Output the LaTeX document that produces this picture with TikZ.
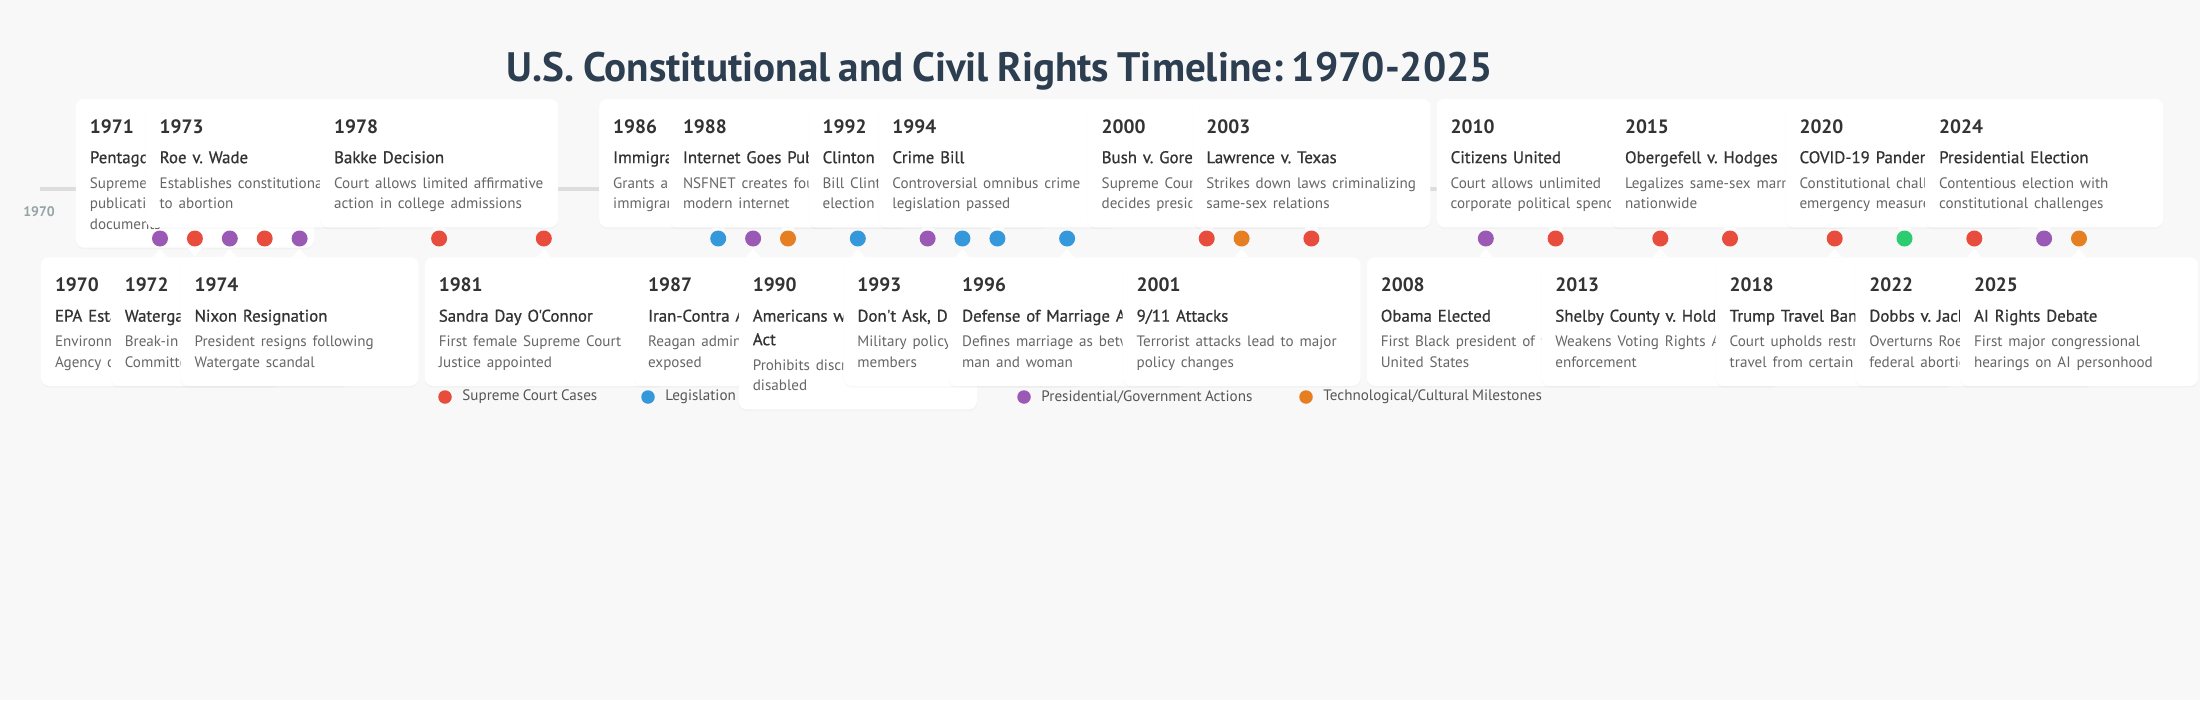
\documentclass[tikz,border=0pt]{standalone}
\usepackage{fontspec}
\setmainfont[WordSpace=0.8]{PT Sans}
\newfontfamily\medfont[FakeBold=0.8, WordSpace=0.8]{PT Sans}
\usetikzlibrary{positioning,shadows}
\setlength{\parindent}{0pt}
\setlength{\parskip}{0pt}
\frenchspacing
\definecolor{bg}{HTML}{F8F8F8}
\definecolor{heading}{HTML}{2C3E50}
\definecolor{ink}{HTML}{333333}
\definecolor{descgray}{HTML}{666666}
\definecolor{legendgray}{HTML}{555555}
\definecolor{axisgray}{HTML}{DDDDDD}
\definecolor{yeargray}{HTML}{95A5A6}
\definecolor{court}{HTML}{E74C3C}
\definecolor{legis}{HTML}{3498DB}
\definecolor{pres}{HTML}{9B59B6}
\definecolor{tech}{HTML}{E67E22}
\definecolor{health}{HTML}{2ECC71}
\newcommand{\yr}[1]{{\fontsize{11}{13}\selectfont\bfseries\textcolor{ink}{\rule{0pt}{19.6pt}#1}\par}}
\newcommand{\ttl}[1]{{\vspace{3.6pt}\fontsize{9.6}{13.4}\medfont\textcolor{ink}{#1}\par}}
\newcommand{\dsc}[1]{{\vspace{2.8pt}\fontsize{8.6}{11.6}\selectfont\hyphenpenalty=10000\textcolor{descgray}{#1\rule[-10.5pt]{0pt}{0pt}}\par}}
\tikzset{
    card/.style={fill=white, rounded corners=4.5pt, text width=4.2cm, inner xsep=0.28cm, inner ysep=0pt, align=left, anchor=north, drop shadow={opacity=0.045, shadow xshift=0pt, shadow yshift=-1pt}},
    tip/.style={fill=white},
    dot/.style={circle, inner sep=0pt, minimum size=0.32cm},
    legdot/.style={circle, inner sep=0pt, minimum size=0.27cm},
    legtext/.style={inner sep=0pt, anchor=west, text=legendgray, font=\fontsize{8.6}{10}\selectfont},
    axis/.style={axisgray, line width=4*0.02cm},
}

\begin{document}
\begin{tikzpicture}[x=0.02cm, y=-0.02cm]
    \fill[bg] (0,0) rectangle (2200,700);
    \node [font=\fontsize{23.4}{27}\selectfont\bfseries, text=heading, anchor=base] (heading) at (1000,81) {U.S. Constitutional and Civil Rights Timeline: 1970-2025};

    \coordinate (axl) at (40,188.5);
    \coordinate (axr) at (2160,188.5);
    \draw [axis] (axl) -- (axr);
    \node [font=\fontsize{7.9}{9}\selectfont\bfseries, text=yeargray] (lab1970) at (39,212) {1970};

    \node [legdot, fill=court] (lgcourt) at (445,397) {};
    \node [legtext, right=0.2cm of lgcourt] (lgcourttxt) {Supreme Court Cases};
    \node [legdot, fill=legis] (lglegis) at (648,397) {};
    \node [legtext, right=0.2cm of lglegis] (lglegistxt) {Legislation};
    \node [legdot, fill=pres] (lgpres) at (1024,397) {};
    \node [legtext, right=0.2cm of lgpres] (lgprestxt) {Presidential/Government Actions};
    \node [legdot, fill=tech] (lgtech) at (1306,397) {};
    \node [legtext, right=0.2cm of lgtech] (lgtechtxt) {Technological/Cultural Milestones};

    \node [card] (c1970) at (160,257) {\yr{1970}\ttl{EPA Established}\dsc{Environmental Protection\\Agency created}};
    \fill [tip] (c1970.north) ++(-7,0) -- ++(7,-8) -- ++(7,8) -- cycle;
    \node [card] (c1971) at (194.9,98.5) {\yr{1971}\ttl{Pentagon Papers}\dsc{Supreme Court allows\\publication of classified\\documents}};
    \fill [tip] (c1971.south) ++(-7,0) -- ++(7,8) -- ++(7,-8) -- cycle;
    \node [card] (c1972) at (229.8,257) {\yr{1972}\ttl{Watergate Break-in}\dsc{Break-in at Democratic HQ\\Committee office}};
    \fill [tip] (c1972.north) ++(-7,0) -- ++(7,-8) -- ++(7,8) -- cycle;
    \node [card] (c1973) at (264.7,98.5) {\yr{1973}\ttl{Roe v. Wade}\dsc{Establishes constitutional right\\to abortion}};
    \fill [tip] (c1973.south) ++(-7,0) -- ++(7,8) -- ++(7,-8) -- cycle;
    \node [card] (c1974) at (299.6,257) {\yr{1974}\ttl{Nixon Resignation}\dsc{President resigns following\\Watergate scandal}};
    \fill [tip] (c1974.north) ++(-7,0) -- ++(7,-8) -- ++(7,8) -- cycle;
    \node [card] (c1978) at (439.1,98.5) {\yr{1978}\ttl{Bakke Decision}\dsc{Court allows limited affirmative\\action in college admissions}};
    \fill [tip] (c1978.south) ++(-7,0) -- ++(7,8) -- ++(7,-8) -- cycle;
    \node [card] (c1981) at (543.8,257) {\yr{1981}\ttl{Sandra Day O'Connor}\dsc{First female Supreme Court\\Justice appointed}};
    \fill [tip] (c1981.north) ++(-7,0) -- ++(7,-8) -- ++(7,8) -- cycle;
    \node [card] (c1986) at (718.2,98.5) {\yr{1986}\ttl{Immigration Reform Act}\dsc{Grants amnesty to millions of\\immigrants}};
    \fill [tip] (c1986.south) ++(-7,0) -- ++(7,8) -- ++(7,-8) -- cycle;
    \node [card] (c1987) at (753.1,257) {\yr{1987}\ttl{Iran-Contra Affair}\dsc{Reagan administration scandal\\exposed}};
    \fill [tip] (c1987.north) ++(-7,0) -- ++(7,-8) -- ++(7,8) -- cycle;
    \node [card] (c1988) at (788.0,98.5) {\yr{1988}\ttl{Internet Goes Public}\dsc{NSFNET creates foundation for\\modern internet}};
    \fill [tip] (c1988.south) ++(-7,0) -- ++(7,8) -- ++(7,-8) -- cycle;
    \node [card] (c1990) at (857.8,257) {\yr{1990}\ttl{Americans with Disabilities\\Act}\dsc{Prohibits discrimination of\\disabled}};
    \fill [tip] (c1990.north) ++(-7,0) -- ++(7,-8) -- ++(7,8) -- cycle;
    \node [card] (c1992) at (927.6,98.5) {\yr{1992}\ttl{Clinton Elected}\dsc{Bill Clinton wins presidential\\election}};
    \fill [tip] (c1992.south) ++(-7,0) -- ++(7,8) -- ++(7,-8) -- cycle;
    \node [card] (c1993) at (962.4,257) {\yr{1993}\ttl{Don't Ask, Don't Tell}\dsc{Military policy on gay service\\members}};
    \fill [tip] (c1993.north) ++(-7,0) -- ++(7,-8) -- ++(7,8) -- cycle;
    \node [card] (c1994) at (997.4,98.5) {\yr{1994}\ttl{Crime Bill}\dsc{Controversial omnibus crime\\legislation passed}};
    \fill [tip] (c1994.south) ++(-7,0) -- ++(7,8) -- ++(7,-8) -- cycle;
    \node [card] (c1996) at (1067.1,257) {\yr{1996}\ttl{Defense of Marriage Act}\dsc{Defines marriage as between\\man and woman}};
    \fill [tip] (c1996.north) ++(-7,0) -- ++(7,-8) -- ++(7,8) -- cycle;
    \node [card] (c2000) at (1206.7,98.5) {\yr{2000}\ttl{Bush v. Gore}\dsc{Supreme Court effectively\\decides presidential election}};
    \fill [tip] (c2000.south) ++(-7,0) -- ++(7,8) -- ++(7,-8) -- cycle;
    \node [card] (c2001) at (1241.6,257) {\yr{2001}\ttl{9/11 Attacks}\dsc{Terrorist attacks lead to major\\policy changes}};
    \fill [tip] (c2001.north) ++(-7,0) -- ++(7,-8) -- ++(7,8) -- cycle;
    \node [card] (c2003) at (1311.4,98.5) {\yr{2003}\ttl{Lawrence v. Texas}\dsc{Strikes down laws criminalizing\\same-sex relations}};
    \fill [tip] (c2003.south) ++(-7,0) -- ++(7,8) -- ++(7,-8) -- cycle;
    \node [card] (c2008) at (1485.8,257) {\yr{2008}\ttl{Obama Elected}\dsc{First Black president of the\\United States}};
    \fill [tip] (c2008.north) ++(-7,0) -- ++(7,-8) -- ++(7,8) -- cycle;
    \node [card] (c2010) at (1555.6,98.5) {\yr{2010}\ttl{Citizens United}\dsc{Court allows unlimited\\corporate political spending}};
    \fill [tip] (c2010.south) ++(-7,0) -- ++(7,8) -- ++(7,-8) -- cycle;
    \node [card] (c2013) at (1660.3,257) {\yr{2013}\ttl{Shelby County v. Holder}\dsc{Weakens Voting Rights Act\\enforcement}};
    \fill [tip] (c2013.north) ++(-7,0) -- ++(7,-8) -- ++(7,8) -- cycle;
    \node [card] (c2015) at (1730.0,98.5) {\yr{2015}\ttl{Obergefell v. Hodges}\dsc{Legalizes same-sex marriage\\nationwide}};
    \fill [tip] (c2015.south) ++(-7,0) -- ++(7,8) -- ++(7,-8) -- cycle;
    \node [card] (c2018) at (1834.7,257) {\yr{2018}\ttl{Trump Travel Ban}\dsc{Court upholds restrictions on\\travel from certain countries}};
    \fill [tip] (c2018.north) ++(-7,0) -- ++(7,-8) -- ++(7,8) -- cycle;
    \node [card] (c2020) at (1904.5,98.5) {\yr{2020}\ttl{COVID-19 Pandemic}\dsc{Constitutional challenges to\\emergency measures}};
    \fill [tip] (c2020.south) ++(-7,0) -- ++(7,8) -- ++(7,-8) -- cycle;
    \node [card] (c2022) at (1974.3,257) {\yr{2022}\ttl{Dobbs v. Jackson}\dsc{Overturns Roe v. Wade, ends\\federal abortion right}};
    \fill [tip] (c2022.north) ++(-7,0) -- ++(7,-8) -- ++(7,8) -- cycle;
    \node [card] (c2024) at (2044.1,98.5) {\yr{2024}\ttl{Presidential Election}\dsc{Contentious election with\\constitutional challenges}};
    \fill [tip] (c2024.south) ++(-7,0) -- ++(7,8) -- ++(7,-8) -- cycle;
    \node [card] (c2025) at (2079.0,257) {\yr{2025}\ttl{AI Rights Debate}\dsc{First major congressional\\hearings on AI personhood}};
    \fill [tip] (c2025.north) ++(-7,0) -- ++(7,-8) -- ++(7,8) -- cycle;

    \node [dot, fill=pres] (d1970) at (160,238.5) {};
    \node [dot, fill=court] (d1971) at (194.9,238.5) {};
    \node [dot, fill=pres] (d1972) at (229.8,238.5) {};
    \node [dot, fill=court] (d1973) at (264.7,238.5) {};
    \node [dot, fill=pres] (d1974) at (299.6,238.5) {};
    \node [dot, fill=court] (d1978) at (439.1,238.5) {};
    \node [dot, fill=court] (d1981) at (543.8,238.5) {};
    \node [dot, fill=legis] (d1986) at (718.2,238.5) {};
    \node [dot, fill=pres] (d1987) at (753.1,238.5) {};
    \node [dot, fill=tech] (d1988) at (788.0,238.5) {};
    \node [dot, fill=legis] (d1990) at (857.8,238.5) {};
    \node [dot, fill=pres] (d1992) at (927.6,238.5) {};
    \node [dot, fill=legis] (d1993) at (962.4,238.5) {};
    \node [dot, fill=legis] (d1994) at (997.4,238.5) {};
    \node [dot, fill=legis] (d1996) at (1067.1,238.5) {};
    \node [dot, fill=court] (d2000) at (1206.7,238.5) {};
    \node [dot, fill=tech] (d2001) at (1241.6,238.5) {};
    \node [dot, fill=court] (d2003) at (1311.4,238.5) {};
    \node [dot, fill=pres] (d2008) at (1485.8,238.5) {};
    \node [dot, fill=court] (d2010) at (1555.6,238.5) {};
    \node [dot, fill=court] (d2013) at (1660.3,238.5) {};
    \node [dot, fill=court] (d2015) at (1730.0,238.5) {};
    \node [dot, fill=court] (d2018) at (1834.7,238.5) {};
    \node [dot, fill=health] (d2020) at (1904.5,238.5) {};
    \node [dot, fill=court] (d2022) at (1974.3,238.5) {};
    \node [dot, fill=pres] (d2024) at (2044.1,238.5) {};
    \node [dot, fill=tech] (d2025) at (2079.0,238.5) {};
\end{tikzpicture}
\end{document}
